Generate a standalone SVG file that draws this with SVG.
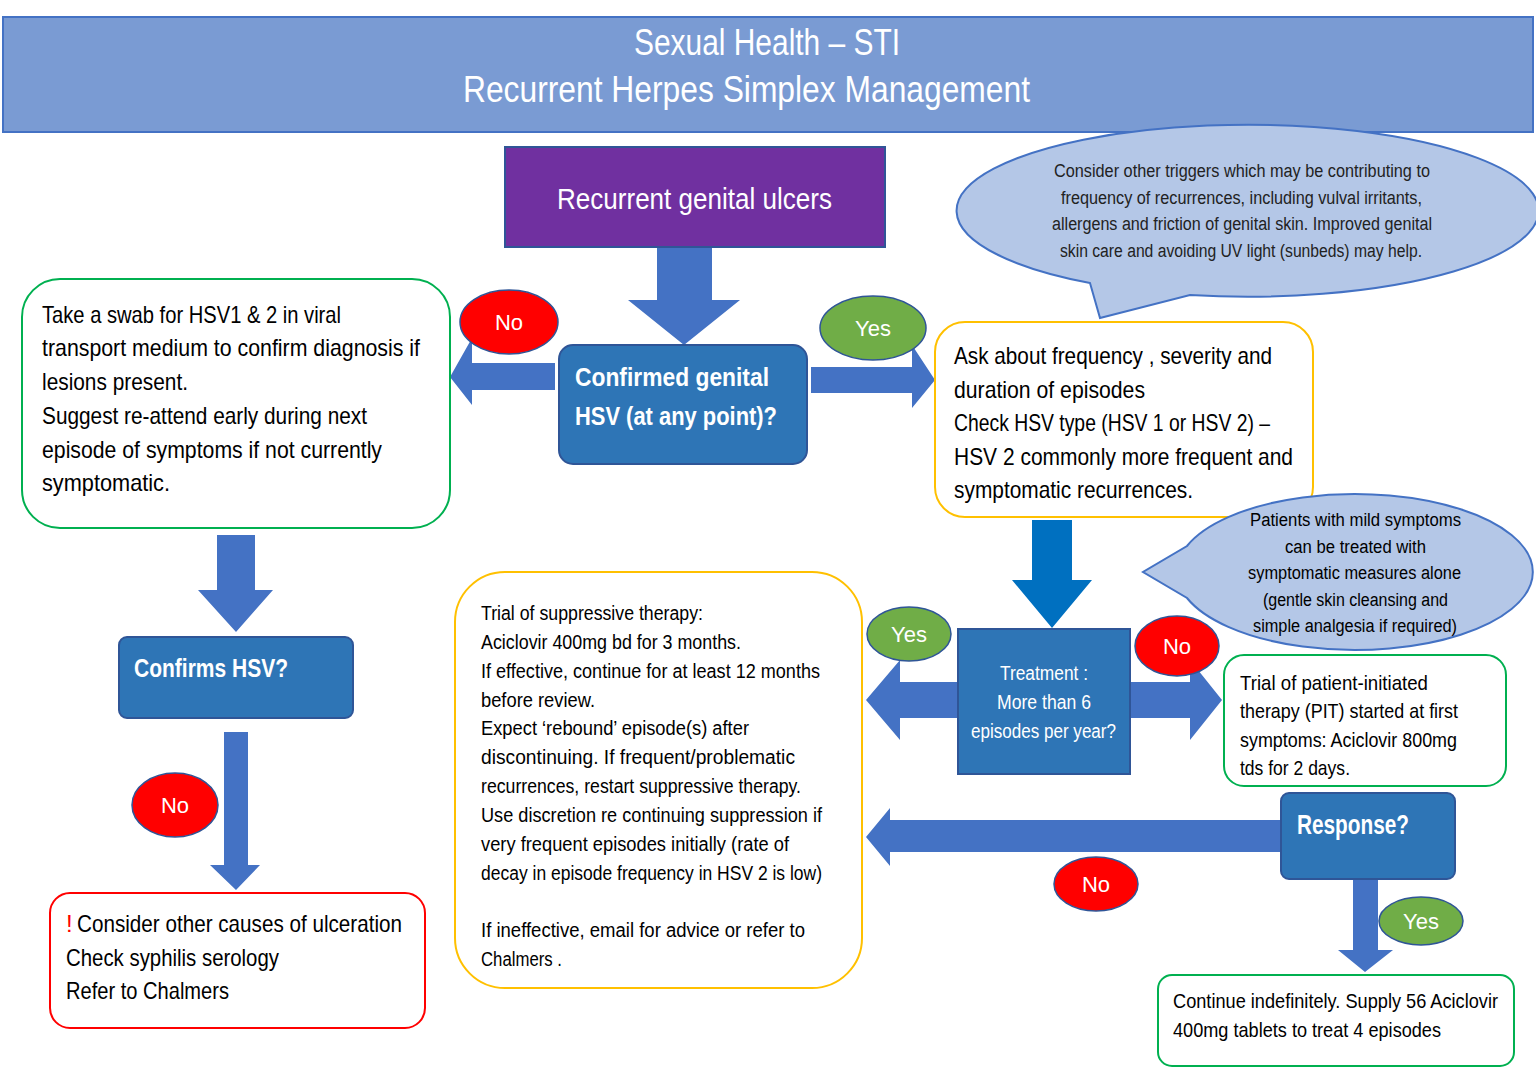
<svg xmlns="http://www.w3.org/2000/svg" width="1536" height="1069" viewBox="0 0 1536 1069">
<style>
text{font-family:"Liberation Sans",sans-serif}
tspan,text{lengthAdjust:spacingAndGlyphs}
.w{fill:#fff}.b{fill:#000}
.box{fill:#2e75b6;stroke:#2f5597;stroke-width:2}
.arr{fill:#4472c4}
.no{fill:#ff0000;stroke:#2f5597;stroke-width:1.5}
.yes{fill:#70ad47;stroke:#2f5597;stroke-width:1.5}
.lbl{fill:#fff;font-size:22px;text-anchor:middle}
.bub{fill:#b4c7e7;stroke:#4472c4;stroke-width:2}
</style>
<g id="title"><rect x="3" y="17" width="1530" height="115" fill="#7a9bd3" stroke="#4472c4" stroke-width="2"/>
<text x="634" y="55" class="w" font-size="36" textLength="266" lengthAdjust="spacingAndGlyphs">Sexual Health – STI</text>
<text x="463" y="102" class="w" font-size="36" textLength="567" lengthAdjust="spacingAndGlyphs">Recurrent Herpes Simplex Management</text></g>
<g id="connectors">
<polygon class="arr" points="657,248 712,248 712,300 740,300 684,345 628,300 657,300"/>
<polygon class="arr" points="555,363 555,390 472,390 472,405 450,377 472,338 472,363"/>
<polygon class="arr" points="811,367 912,367 912,345 935,380 912,408 912,393 811,393"/>
<polygon fill="#0070c0" points="1032,520 1072,520 1072,580 1092,580 1052,628 1012,580 1032,580"/>
<polygon class="arr" points="958,682 958,718 900,718 900,740 866,700 900,660 900,682"/>
<polygon class="arr" points="1130,682 1130,718 1190,718 1190,740 1222,700 1190,660 1190,682"/>
<polygon class="arr" points="1281,820 1281,852 890,852 890,866 866,837 890,808 890,820"/>
<polygon class="arr" points="1353,880 1378,880 1378,950 1393,950 1365,972 1338,950 1353,950"/>
<polygon class="arr" points="217,535 255,535 255,590 273,590 236,632 198,590 217,590"/>
<polygon class="arr" points="224,732 248,732 248,865 260,865 236,890 210,865 224,865"/>
</g>
<g id="ulcers"><rect x="505" y="147" width="380" height="100" fill="#7030a0" stroke="#2f5597" stroke-width="2"/>
<text x="557" y="209" class="w" font-size="30" textLength="275" lengthAdjust="spacingAndGlyphs">Recurrent genital ulcers</text></g>
<g id="confirmed"><rect class="box" x="559" y="345" width="248" height="119" rx="14"/>
<text class="w" font-size="26" font-weight="bold" x="575" y="386" textLength="194" lengthAdjust="spacingAndGlyphs">Confirmed  genital</text>
<text class="w" font-size="26" font-weight="bold" x="575" y="425" textLength="202" lengthAdjust="spacingAndGlyphs">HSV (at any point)?</text></g>
<g id="no1"><ellipse class="no" cx="509" cy="322" rx="49" ry="32"/><text class="lbl" x="509" y="330">No</text></g>
<g id="yes1"><ellipse class="yes" cx="873" cy="328" rx="53" ry="32"/><text class="lbl" x="873" y="336">Yes</text></g>
<g id="swab"><rect x="22" y="279" width="428" height="249" rx="38" fill="#fff" stroke="#00b050" stroke-width="2"/>
<text class="b" font-size="24"><tspan x="42" y="323" textLength="299" lengthAdjust="spacingAndGlyphs">Take a swab for HSV1 &amp; 2 in viral</tspan></text>
<text class="b" font-size="24"><tspan x="42" y="356" textLength="378" lengthAdjust="spacingAndGlyphs">transport medium to confirm diagnosis if</tspan></text>
<text class="b" font-size="24"><tspan x="42" y="390" textLength="146" lengthAdjust="spacingAndGlyphs">lesions present.</tspan></text>
<text class="b" font-size="24"><tspan x="42" y="424" textLength="325" lengthAdjust="spacingAndGlyphs">Suggest re-attend early during next</tspan></text>
<text class="b" font-size="24"><tspan x="42" y="458" textLength="340" lengthAdjust="spacingAndGlyphs">episode of symptoms if not currently</tspan></text>
<text class="b" font-size="24"><tspan x="42" y="491" textLength="128" lengthAdjust="spacingAndGlyphs">symptomatic.</tspan></text></g>
<g id="bubble1"><path class="bub" d="M1090,283 A291,86 0 1 1 1190,295 L1100,318 Z"/>
<text font-size="18" fill="#222" x="1054" y="177" textLength="376" lengthAdjust="spacingAndGlyphs">Consider other triggers which may be contributing to</text>
<text font-size="18" fill="#222" x="1061" y="204" textLength="361" lengthAdjust="spacingAndGlyphs">frequency of recurrences, including vulval irritants,</text>
<text font-size="18" fill="#222" x="1052" y="230" textLength="380" lengthAdjust="spacingAndGlyphs">allergens and friction of genital skin. Improved genital</text>
<text font-size="18" fill="#222" x="1060" y="257" textLength="362" lengthAdjust="spacingAndGlyphs">skin care and avoiding UV light (sunbeds) may help.</text></g>
<g id="ask"><rect x="935" y="322" width="378" height="195" rx="30" fill="#fff" stroke="#ffc000" stroke-width="2"/>
<text class="b" font-size="24" x="954" y="364" textLength="318" lengthAdjust="spacingAndGlyphs">Ask about frequency , severity and</text>
<text class="b" font-size="24" x="954" y="398" textLength="191" lengthAdjust="spacingAndGlyphs">duration of episodes</text>
<text class="b" font-size="24" x="954" y="431" textLength="316" lengthAdjust="spacingAndGlyphs">Check HSV type (HSV 1 or HSV 2) –</text>
<text class="b" font-size="24" x="954" y="465" textLength="339" lengthAdjust="spacingAndGlyphs">HSV 2  commonly more frequent and</text>
<text class="b" font-size="24" x="954" y="498" textLength="239" lengthAdjust="spacingAndGlyphs">symptomatic recurrences.</text></g>
<g id="bubble2"><path class="bub" d="M1187,546 A178,78 0 1 1 1187,598 L1143,572 Z"/>
<text font-size="18" fill="#000" x="1250" y="526" textLength="211" lengthAdjust="spacingAndGlyphs">Patients with mild symptoms</text>
<text font-size="18" fill="#000" x="1285" y="553" textLength="141" lengthAdjust="spacingAndGlyphs">can be treated with</text>
<text font-size="18" fill="#000" x="1248" y="579" textLength="213" lengthAdjust="spacingAndGlyphs">symptomatic measures alone</text>
<text font-size="18" fill="#000" x="1263" y="606" textLength="185" lengthAdjust="spacingAndGlyphs">(gentle skin cleansing and</text>
<text font-size="18" fill="#000" x="1253" y="632" textLength="204" lengthAdjust="spacingAndGlyphs">simple analgesia if required)</text></g>
<g id="treatment"><rect class="box" x="958" y="629" width="172" height="145"/>
<text class="w" font-size="20" x="1000" y="680" textLength="88" lengthAdjust="spacingAndGlyphs">Treatment :</text>
<text class="w" font-size="20" x="997" y="709" textLength="94" lengthAdjust="spacingAndGlyphs">More than 6</text>
<text class="w" font-size="20" x="971" y="738" textLength="145" lengthAdjust="spacingAndGlyphs">episodes per year?</text></g>
<g id="yes2"><ellipse class="yes" cx="909" cy="634" rx="42" ry="27"/><text class="lbl" x="909" y="642">Yes</text></g>
<g id="no2"><ellipse class="no" cx="1177" cy="646" rx="42" ry="30"/><text class="lbl" x="1177" y="654">No</text></g>
<g id="pit"><rect x="1224" y="655" width="282" height="131" rx="20" fill="#fff" stroke="#00b050" stroke-width="2"/>
<text class="b" font-size="21" x="1240" y="690" textLength="188" lengthAdjust="spacingAndGlyphs">Trial of patient-initiated</text>
<text class="b" font-size="21" x="1240" y="718" textLength="218" lengthAdjust="spacingAndGlyphs">therapy (PIT) started at first</text>
<text class="b" font-size="21" x="1240" y="747" textLength="217" lengthAdjust="spacingAndGlyphs">symptoms: Aciclovir 800mg</text>
<text class="b" font-size="21" x="1240" y="775" textLength="110" lengthAdjust="spacingAndGlyphs">tds for 2 days.</text></g>
<g id="response"><rect class="box" x="1281" y="793" width="174" height="86" rx="8"/>
<text class="w" font-size="28" font-weight="bold" x="1297" y="834" textLength="112" lengthAdjust="spacingAndGlyphs">Response?</text></g>
<g id="no3"><ellipse class="no" cx="1096" cy="884" rx="42" ry="27"/><text class="lbl" x="1096" y="892">No</text></g>
<g id="yes3"><ellipse class="yes" cx="1421" cy="921" rx="42" ry="24"/><text class="lbl" x="1421" y="929">Yes</text></g>
<g id="continue"><rect x="1158" y="975" width="356" height="91" rx="14" fill="#fff" stroke="#00b050" stroke-width="2"/>
<text class="b" font-size="21" x="1173" y="1008" textLength="325" lengthAdjust="spacingAndGlyphs">Continue indefinitely. Supply 56 Aciclovir</text>
<text class="b" font-size="21" x="1173" y="1037" textLength="268" lengthAdjust="spacingAndGlyphs">400mg tablets  to treat 4 episodes</text></g>
<g id="suppressive"><rect x="455" y="572" width="407" height="416" rx="50" fill="#fff" stroke="#ffc000" stroke-width="2"/>
<text class="b" font-size="20" x="481" y="620" textLength="222" lengthAdjust="spacingAndGlyphs">Trial of suppressive therapy:</text>
<text class="b" font-size="20" x="481" y="649" textLength="260" lengthAdjust="spacingAndGlyphs">Aciclovir 400mg bd for 3 months.</text>
<text class="b" font-size="20" x="481" y="678" textLength="339" lengthAdjust="spacingAndGlyphs">If effective, continue for at least 12 months</text>
<text class="b" font-size="20" x="481" y="707" textLength="114" lengthAdjust="spacingAndGlyphs">before review.</text>
<text class="b" font-size="20" x="481" y="735" textLength="268" lengthAdjust="spacingAndGlyphs">Expect  ‘rebound’ episode(s) after</text>
<text class="b" font-size="20" x="481" y="764" textLength="314" lengthAdjust="spacingAndGlyphs">discontinuing.  If  frequent/problematic</text>
<text class="b" font-size="20" x="481" y="793" textLength="320" lengthAdjust="spacingAndGlyphs">recurrences, restart suppressive therapy.</text>
<text class="b" font-size="20" x="481" y="822" textLength="341" lengthAdjust="spacingAndGlyphs">Use discretion  re continuing suppression if</text>
<text class="b" font-size="20" x="481" y="851" textLength="308" lengthAdjust="spacingAndGlyphs">very frequent episodes initially (rate of</text>
<text class="b" font-size="20" x="481" y="880" textLength="341" lengthAdjust="spacingAndGlyphs">decay in episode frequency in HSV 2 is low)</text>
<text class="b" font-size="20" x="481" y="937" textLength="324" lengthAdjust="spacingAndGlyphs">If ineffective,  email for advice or refer to</text>
<text class="b" font-size="20" x="481" y="966" textLength="81" lengthAdjust="spacingAndGlyphs">Chalmers .</text></g>
<g id="confirms"><rect class="box" x="119" y="637" width="234" height="81" rx="8"/>
<text class="w" font-size="26" font-weight="bold" x="134" y="677" textLength="154" lengthAdjust="spacingAndGlyphs">Confirms HSV?</text></g>
<g id="no4"><ellipse class="no" cx="175" cy="805" rx="43" ry="32"/><text class="lbl" x="175" y="813">No</text></g>
<g id="other"><rect x="50" y="893" width="375" height="135" rx="20" fill="#fff" stroke="#ff0000" stroke-width="2"/>
<text font-size="24" fill="#ff0000" x="66" y="932">!</text>
<text class="b" font-size="24" x="77" y="932" textLength="325" lengthAdjust="spacingAndGlyphs">Consider other causes of ulceration</text>
<text class="b" font-size="24" x="66" y="966" textLength="213" lengthAdjust="spacingAndGlyphs">Check syphilis serology</text>
<text class="b" font-size="24" x="66" y="999" textLength="163" lengthAdjust="spacingAndGlyphs">Refer to Chalmers</text></g>
</svg>
